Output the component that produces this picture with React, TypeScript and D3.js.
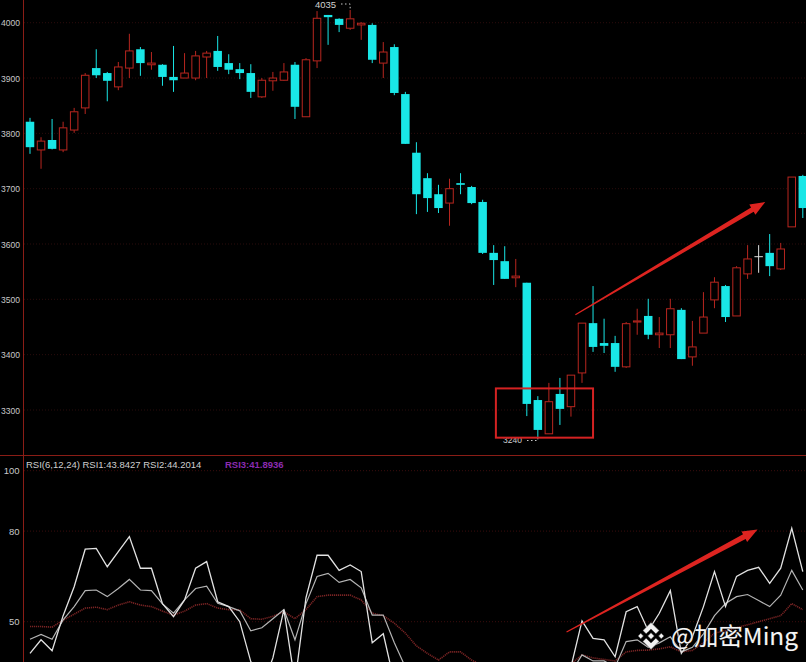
import React from 'react';
import * as d3 from 'd3';

// ---- data ----
const opens = [3821,3770,3788,3770,3806,3846,3918,3909,3884,3918,3952,3924,3924,3902,3900,3900,3938,3949,3927,3916,3909,3866,3895,3896,3924,3830,3931,4014,4007,3990,3996,3996,3927,3956,3871,3765,3719,3690,3674,3710,3703,3676,3584,3569,3539,3530,3318,3257,3329,3306,3367,3457,3421,3421,3378,3459,3470,3436,3436,3481,3396,3439,3499,3524,3470,3546,3578,3584,3555,3631,3723];
const highs = [3828,3793,3826,3821,3846,3909,3952,3911,3929,3980,3956,3947,3925,3958,3945,3949,3949,3976,3943,3927,3925,3900,3911,3927,3929,3936,4021,4014,4008,4023,4001,3999,3965,3961,3875,3784,3728,3707,3718,3728,3705,3680,3598,3596,3573,3530,3325,3349,3358,3363,3457,3524,3465,3434,3459,3483,3501,3468,3501,3484,3461,3513,3540,3526,3560,3598,3598,3618,3602,3721,3725];
const lows = [3763,3736,3771,3766,3801,3835,3900,3858,3878,3900,3904,3915,3886,3875,3900,3896,3900,3913,3907,3898,3864,3864,3877,3895,3826,3830,3918,3960,3983,3987,3969,3927,3900,3869,3781,3654,3658,3656,3633,3690,3672,3582,3526,3537,3522,3289,3251,3257,3273,3288,3349,3405,3403,3369,3376,3436,3428,3412,3412,3392,3380,3439,3484,3459,3470,3537,3548,3542,3553,3631,3647];
const closes = [3775,3786,3772,3810,3839,3905,3905,3895,3920,3949,3927,3927,3902,3896,3909,3940,3945,3920,3915,3909,3875,3896,3900,3911,3848,3933,4008,4010,3996,4007,3999,3933,3947,3873,3781,3690,3683,3665,3700,3707,3674,3584,3571,3537,3542,3311,3264,3315,3302,3363,3457,3414,3416,3378,3456,3461,3436,3439,3483,3392,3414,3468,3531,3468,3557,3573,3578,3560,3591,3721,3665];

const rsi1 = [39.5,44,40.4,52,61.6,74,74.3,68.2,73.2,78.2,67.7,67.7,56,51.7,57.2,67.7,69.9,56.6,55,50,36.8,28,38,54,30,58,72,72,67,68.8,66.6,43,46,30,22,15,12,12,20,18,15,12,10,12,18,8,12,25,22,35,50.3,44.5,44,38.4,53.3,55,47,52.8,60.3,39.5,45,55,66.6,55,65,67,68,62.7,67.7,80.9,66.6];
const rsi2 = [44.2,45.8,44.2,50.6,55,60.3,60.5,58.3,61,64,60.5,60.3,55.9,52.8,57.2,61,61.8,56.1,55,53.6,47,48,51,54,44,56,65,66,63,64,61.2,52.2,52.2,43,35,30,26,25,28,27,25,23,20,20,24,18,20,28,27,33,39,37,37,35,43.4,44,41.5,43,45,40,41.5,46,52,56,58.3,59,57,55,58.8,67,60.5];
const rsi3 = [48.4,48.4,48.2,50.5,52.5,54.5,54.8,54,55.5,56.6,55.5,55,53.5,52.2,53.5,55.5,56,54.5,54,53.9,51,50.8,51.8,53.3,51,54,58.3,58.8,58.8,58.8,57.2,52.8,52,49.5,46.2,42,39.5,37.3,40,40,37.3,35.5,34,33.5,34,33,32,33,33,36,39,38,37.5,37,40,40.5,40.6,41,41.7,40,40.5,43,46.2,47,48,49,50,51,52,56,54];

const priceTicks = [4000, 3900, 3800, 3700, 3600, 3500, 3400, 3300];
const rsiTicks = [100, 80, 50];
const legendMain = 'RSI(6,12,24) RSI1:43.8427 RSI2:44.2014';
const legendRsi3 = 'RSI3:41.8936';
const highLabel = '4035';
const lowLabel = '3240';
const watermark = '@加密Ming';

// annotations in data units: [index, value]
const priceArrow = [[49.4, 3472], [66.6, 3676]];
const rsiArrow = [[48.6, 46.6], [65.9, 80.5]];
const boxIdx = [42.2, 51.0];
const boxPrice = [3339, 3250];

const W = 806, H = 662;
const CYAN = '#19e6e6';
const RED = '#b8261f';

function arrowPoly(x0: number, y0: number, x1: number, y1: number, w0: number, w1: number, headL: number, headW: number) {
  const dx = x1 - x0, dy = y1 - y0;
  const L = Math.hypot(dx, dy);
  const ux = dx / L, uy = dy / L;
  const nx = -uy, ny = ux;
  const bx = x1 - ux * headL, by = y1 - uy * headL;
  const pts = [
    [x0 + nx * w0, y0 + ny * w0],
    [bx + nx * w1, by + ny * w1],
    [bx + nx * headW, by + ny * headW],
    [x1, y1],
    [bx - nx * headW, by - ny * headW],
    [bx - nx * w1, by - ny * w1],
    [x0 - nx * w0, y0 - ny * w0],
  ];
  return pts.map(p => p.join(',')).join(' ');
}

export default function App() {
  const x = d3.scaleLinear().domain([0, 70]).range([30, 802.8]);
  const y = d3.scaleLinear().domain([3300, 4000]).range([410, 22.7]);
  const yr = d3.scaleLinear().domain([50, 100]).range([621.7, 470.7]);
  const bw = 8.5;

  const line = d3.line<number>().x((_, i) => x(i)).y(d => yr(d));

  const hiIdx = 29;
  const loIdx = 46;

  const pa0 = [x(priceArrow[0][0]), y(priceArrow[0][1])];
  const pa1 = [x(priceArrow[1][0]), y(priceArrow[1][1])];
  const ra0 = [x(rsiArrow[0][0]), yr(rsiArrow[0][1])];
  const ra1 = [x(rsiArrow[1][0]), yr(rsiArrow[1][1])];

  const wmX = 638, wmY = 636;
  const s = 27;
  const logo = [
    [[0, -0.5], [0.3, -0.2], [0.18, -0.08], [0, -0.26], [-0.18, -0.08], [-0.3, -0.2]],
    [[0, 0.5], [0.3, 0.2], [0.18, 0.08], [0, 0.26], [-0.18, 0.08], [-0.3, 0.2]],
    [[0, -0.12], [0.12, 0], [0, 0.12], [-0.12, 0]],
    [[-0.38, -0.1], [-0.28, 0], [-0.38, 0.1], [-0.48, 0]],
    [[0.38, -0.1], [0.48, 0], [0.38, 0.1], [0.28, 0]],
  ];

  return (
    <svg width={W} height={H} style={{ position: 'absolute', left: 0, top: 0, background: '#000' }}
      fontFamily="'Liberation Sans', Arial, sans-serif">
      <defs>
        <clipPath id="pc"><rect x={24} y={0} width={W - 24} height={454} /></clipPath>
        <clipPath id="rc"><rect x={24} y={456} width={W - 24} height={H - 456} /></clipPath>
      </defs>
      <rect x={0} y={0} width={W} height={H} fill="#000" />

      {/* price grid */}
      {priceTicks.map(t => (
        <line key={'g' + t} x1={24} x2={W} y1={y(t)} y2={y(t)} stroke="#2a0c0c" strokeWidth={1} strokeDasharray="1,2" />
      ))}
      {priceTicks.map(t => (
        <text key={'t' + t} x={1} y={y(t) + 3.5} fill="#c8c8c8" fontSize={9}
          textLength={19} lengthAdjust="spacingAndGlyphs">{t}</text>
      ))}

      {/* candles */}
      <g clipPath="url(#pc)">
        {opens.map((o, i) => {
          const c = closes[i];
          const up = c > o;
          const flat = c === o;
          const col = flat ? '#dddddd' : up ? RED : CYAN;
          const cx = x(i);
          const top = y(Math.max(o, c));
          const bot = y(Math.min(o, c));
          const h = Math.max(1, bot - top);
          return (
            <g key={i}>
              {up ? (
                <>
                  <line x1={cx} x2={cx} y1={y(highs[i])} y2={top} stroke={col} strokeWidth={1} />
                  <line x1={cx} x2={cx} y1={bot} y2={y(lows[i])} stroke={col} strokeWidth={1} />
                  <rect x={cx - bw / 2 + 0.5} y={top} width={bw - 1} height={h} fill="#000" stroke={col} strokeWidth={1} />
                </>
              ) : (
                <>
                  <line x1={cx} x2={cx} y1={y(highs[i])} y2={y(lows[i])} stroke={col} strokeWidth={1} />
                  <rect x={cx - bw / 2} y={top} width={bw} height={h} fill={col} />
                </>
              )}
            </g>
          );
        })}
      </g>

      {/* high / low labels */}
      <text x={315} y={8} fill="#d0d0d0" fontSize={9.5}>{highLabel}</text>
      <path d={`M341,4 H${x(hiIdx)} V${y(highs[hiIdx])}`} fill="none" stroke="#c8c8c8" strokeWidth={1} strokeDasharray="1.5,2.5" />
      <text x={503} y={443} fill="#d0d0d0" fontSize={8.5}>{lowLabel}</text>
      <path d={`M527,440.5 H${x(loIdx)} V${y(lows[loIdx])}`} fill="none" stroke="#c8c8c8" strokeWidth={1} strokeDasharray="1.5,2.5" />

      {/* red box */}
      <rect x={x(boxIdx[0])} y={y(boxPrice[0])} width={x(boxIdx[1]) - x(boxIdx[0])} height={y(boxPrice[1]) - y(boxPrice[0])}
        fill="none" stroke="#d42222" strokeWidth={2} />

      {/* price arrow */}
      <polygon points={arrowPoly(pa0[0], pa0[1], pa1[0], pa1[1], 0.6, 2.5, 15, 6)} fill="#dd2420" />

      {/* axis lines */}
      <line x1={23.5} x2={23.5} y1={0} y2={H} stroke="#8a1d16" strokeWidth={1} />
      <line x1={0} x2={W} y1={455.5} y2={455.5} stroke="#8a1d16" strokeWidth={1} />

      {/* RSI panel */}
      {rsiTicks.map(t => (
        <line key={'rg' + t} x1={24} x2={W} y1={yr(t)} y2={yr(t)} stroke="#3a0d0d" strokeWidth={1} strokeDasharray="1,2" />
      ))}
      {rsiTicks.map(t => (
        <text key={'rt' + t} x={19.5} y={yr(t) + 3.5} fill="#c8c8c8" fontSize={9.5} textAnchor="end">{t}</text>
      ))}
      <text x={26} y={468} fill="#cfcfcf" fontSize={9.5}>{legendMain}</text>
      <text x={225} y={468} fill="#8a2bb0" fontSize={9.5} fontWeight="bold">{legendRsi3}</text>

      <g clipPath="url(#rc)">
        <path d={line(rsi3) || ''} fill="none" stroke="#7a2424" strokeWidth={1.6} strokeDasharray="1.2,0.8" />
        <path d={line(rsi2) || ''} fill="none" stroke="#b4b4b4" strokeWidth={1.2} />
        <path d={line(rsi1) || ''} fill="none" stroke="#e2e2e2" strokeWidth={1.3} />
      </g>

      <polygon points={arrowPoly(ra0[0], ra0[1], ra1[0], ra1[1], 0.6, 2.7, 15, 6)} fill="#dd2420" />

      {/* watermark */}
      <g transform={`translate(${wmX + 13},${wmY})`}>
        {logo.map((poly, k) => (
          <polygon key={k} points={poly.map(p => `${p[0] * s},${p[1] * s}`).join(' ')} fill="#f2f2f2" stroke="#444" strokeWidth={0.5} />
        ))}
      </g>
      <text x={671} y={645} fill="#f4f4f4" fontSize={23.5} fontFamily="'Noto Sans CJK SC', 'Noto Sans', sans-serif"
        stroke="#333" strokeWidth={0.6} paintOrder="stroke" textLength={127} lengthAdjust="spacingAndGlyphs">{watermark}</text>
    </svg>
  );
}
